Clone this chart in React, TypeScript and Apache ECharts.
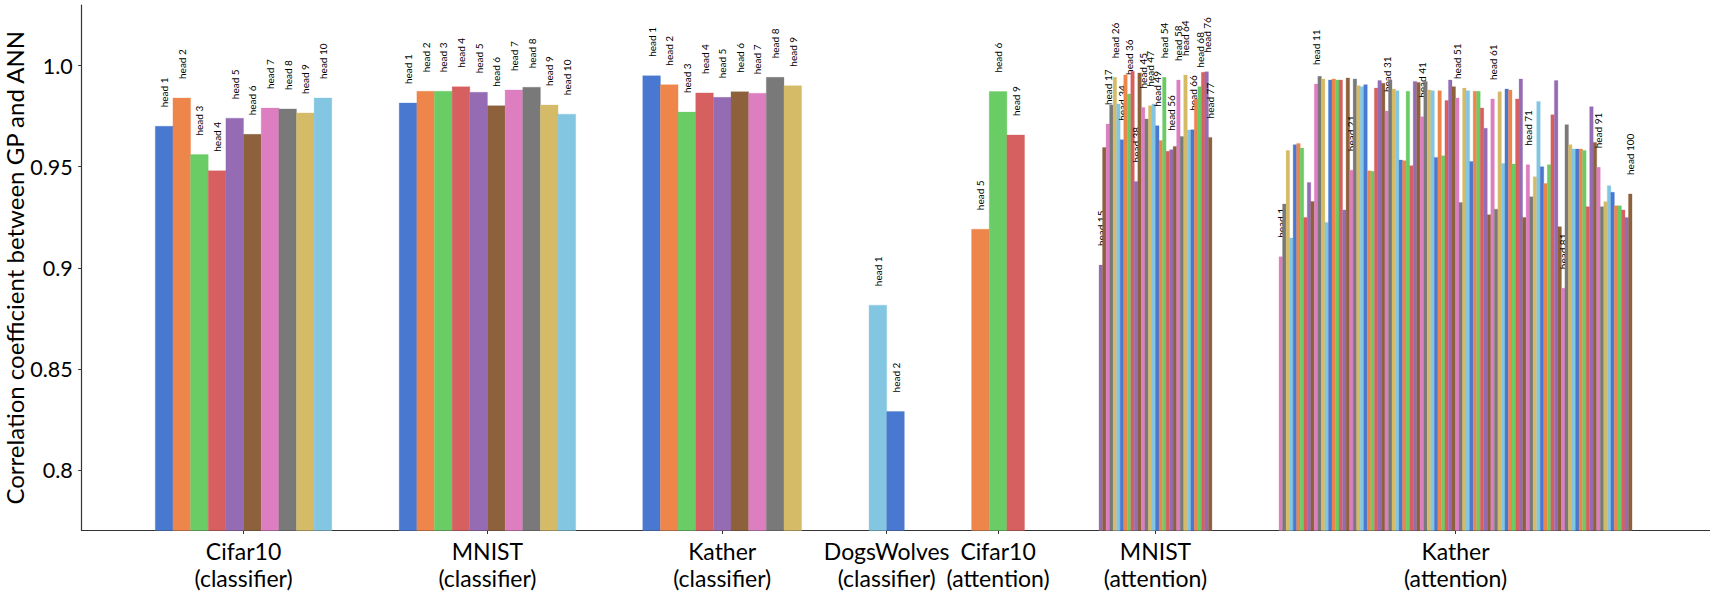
import React, { useEffect, useRef } from "react";
import * as echarts from "echarts";

// seaborn "muted" palette, cycled continuously over all bars
const palette = ["#4878d0", "#ee854a", "#6acc64", "#d65f5f", "#956cb4", "#8c613c", "#dc7ec0", "#797979", "#d5bb67", "#82c6e2"];

const groupLabels = [
  "Cifar10\n(classifier)",
  "MNIST\n(classifier)",
  "Kather\n(classifier)",
  "DogsWolves\n(classifier)",
  "Cifar10\n(attention)",
  "MNIST\n(attention)",
  "Kather\n(attention)",
];
// group centre positions on the x axis (unit = one classifier bar width)
const groupCenters = [9.17, 22.99, 36.29, 45.61, 51.92, 60.84, 77.84];
const groupBarWidths = [1, 1, 1, 1, 1, 0.2, 0.2];
const X_MAX = 92.23;

const Y_MIN = 0.77;
const Y_MAX = 1.03;
const yTicks = [0.8, 0.85, 0.9, 0.95, 1.0];

const cifarClassifier = [0.970, 0.984, 0.956, 0.948, 0.974, 0.966, 0.979, 0.9786, 0.9766, 0.984];
const cifarClassifierHeads = [1, 2, 3, 4, 5, 6, 7, 8, 9, 10];

const mnistClassifier = [0.9815, 0.9873, 0.9873, 0.9896, 0.9868, 0.9802, 0.9879, 0.9893, 0.9805, 0.976];
const mnistClassifierHeads = [1, 2, 3, 4, 5, 6, 7, 8, 9, 10];

const katherClassifier = [0.995, 0.9906, 0.977, 0.9865, 0.9843, 0.9871, 0.9863, 0.9942, 0.9901];
const katherClassifierHeads = [1, 2, 3, 4, 5, 6, 7, 8, 9];

const dogsClassifier = [0.8815, 0.8289];
const dogsClassifierHeads = [1, 2];

const cifarAttention = [0.9191, 0.9872, 0.9657];
const cifarAttentionHeads = [5, 6, 9];

const mnistAttention = [
  0.9013, 0.9595, 0.9711, 0.9805, 0.9942, 0.981, 0.9633, 0.9954, 0.986, 0.9972,
  0.9427, 0.9964, 0.9793, 0.9736, 0.9802, 0.981, 0.9703, 0.9629, 0.9942, 0.9576,
  0.9584, 0.96, 0.9929, 0.965, 0.9954, 0.9681, 0.9683, 0.9835, 0.9896, 0.9967,
  0.997, 0.9645,
];
// labelled heads (null = bar drawn without a label)
const mnistAttentionHeads = [
  15, null, 17, null, 26, null, 34, null, 36, null,
  38, null, 45, null, 47, null, 49, null, 54, null,
  56, null, 58, null, 64, null, 66, null, 68, null,
  76, 77,
];

const katherAttention = [
  0.9054, 0.9315, 0.958, 0.9147, 0.9609, 0.9615, 0.9592, 0.9249, 0.9422, 0.9328,
  0.9909, 0.9947, 0.9934, 0.9224, 0.9929, 0.9934, 0.9929, 0.9929, 0.9286, 0.9939,
  0.9483, 0.9934, 0.9901, 0.9896, 0.9906, 0.948, 0.9477, 0.9889, 0.9926, 0.9913,
  0.9775, 0.9929, 0.9884, 0.9876, 0.9533, 0.953, 0.9873, 0.9505, 0.9922, 0.9917,
  0.9747, 0.9922, 0.9879, 0.9876, 0.9546, 0.9876, 0.9554, 0.9827, 0.9929, 0.9896,
  0.984, 0.9323, 0.9889, 0.9876, 0.9526, 0.9873, 0.9873, 0.979, 0.969, 0.9262,
  0.9835, 0.929, 0.9871, 0.9516, 0.9884, 0.9879, 0.9513, 0.9835, 0.9934, 0.9249,
  0.951, 0.9351, 0.945, 0.9823, 0.95, 0.9417, 0.951, 0.9757, 0.9926, 0.9203,
  0.8899, 0.9708, 0.9609, 0.9587, 0.9587, 0.9587, 0.958, 0.9302, 0.9797, 0.962,
  0.9497, 0.9302, 0.9327, 0.9406, 0.9373, 0.9307, 0.9307, 0.9286, 0.9249, 0.9365,
];
const katherAttentionHeads = katherAttention.map((_, i) => (i % 10 === 0 || i === katherAttention.length - 1 ? i + 1 : null));

const groupValues = [cifarClassifier, mnistClassifier, katherClassifier, dogsClassifier, cifarAttention, mnistAttention, katherAttention];
const groupHeads = [cifarClassifierHeads, mnistClassifierHeads, katherClassifierHeads, dogsClassifierHeads, cifarAttentionHeads, mnistAttentionHeads, katherAttentionHeads];

const FONT = "Lato";
const LABEL_GAP = 19;

type Bar = { x0: number; x1: number; v: number; color: string; label: string };

function buildBars(): Bar[] {
  const bars: Bar[] = [];
  let colorIdx = 0;
  groupValues.forEach((vals, gi) => {
    const w = groupBarWidths[gi];
    const start = groupCenters[gi] - (vals.length * w) / 2;
    vals.forEach((v, i) => {
      const h = groupHeads[gi][i];
      bars.push({
        x0: start + i * w,
        x1: start + (i + 1) * w,
        v,
        color: palette[colorIdx % palette.length],
        label: h != null ? `head ${h}` : "",
      });
      colorIdx++;
    });
  });
  return bars;
}

export default function App() {
  const ref = useRef<HTMLDivElement>(null);
  useEffect(() => {
    if (!ref.current) return;
    const chart = echarts.init(ref.current, undefined, { renderer: "svg" });
    const bars = buildBars();
    const option: any = {
      animation: false,
      backgroundColor: "#ffffff",
      grid: { left: 81.7, right: 0.5, top: 5, bottom: 61.5, containLabel: false, outerBoundsMode: "none" },
      xAxis: {
        type: "value",
        min: 0,
        max: X_MAX,
        splitLine: { show: false },
        axisLine: { show: true, onZero: false, lineStyle: { color: "#333", width: 1.2 } },
        axisTick: { show: true, customValues: groupCenters, length: 3.5, lineStyle: { color: "#333", width: 1 } },
        axisLabel: {
          customValues: groupCenters,
          formatter: (v: number) => {
            const i = groupCenters.findIndex((c) => Math.abs(c - v) < 1e-6);
            return i >= 0 ? groupLabels[i] : "";
          },
          margin: 7,
          fontSize: 23,
          lineHeight: 27,
          color: "#000",
          fontFamily: FONT,
        },
      },
      yAxis: {
        type: "value",
        min: Y_MIN,
        max: Y_MAX,
        name: "Correlation coefficient between GP and ANN",
        nameLocation: "middle",
        nameRotate: 90,
        nameGap: 55,
        nameMoveOverlap: false,
        nameTextStyle: { fontSize: 24, fontFamily: FONT, color: "#000" },
        splitLine: { show: false },
        axisLine: { show: true, onZero: false, lineStyle: { color: "#333", width: 1.2 } },
        axisTick: { show: true, customValues: yTicks, length: 3.5, lineStyle: { color: "#333", width: 1 } },
        axisLabel: {
          customValues: yTicks,
          formatter: (v: number) => v.toFixed(2).replace(/0$/, ""),
          margin: 9,
          fontSize: 21.5,
          color: "#000",
          fontFamily: FONT,
        },
      },
      series: [
        {
          type: "custom",
          clip: false,
          encode: { x: [0, 1], y: 2 },
          data: bars.map((b) => [b.x0, b.x1, b.v]),
          renderItem: (params: any, api: any) => {
            const b = bars[params.dataIndex];
            const tl = api.coord([api.value(0), api.value(2)]);
            const br = api.coord([api.value(1), Y_MIN]);
            const children: any[] = [
              {
                type: "rect",
                shape: { x: tl[0], y: tl[1], width: br[0] - tl[0], height: br[1] - tl[1] },
                style: { fill: b.color, stroke: b.color, lineWidth: 0.3 },
              },
            ];
            if (b.label) {
              children.push({
                type: "text",
                x: (tl[0] + br[0]) / 2,
                y: tl[1] - LABEL_GAP,
                rotation: Math.PI / 2,
                style: {
                  text: b.label,
                  fill: "#000",
                  fontSize: 10,
                  fontFamily: FONT,
                  align: "left",
                  verticalAlign: "middle",
                },
              });
            }
            return { type: "group", children };
          },
        },
      ],
    };
    chart.setOption(option);
    return () => chart.dispose();
  }, []);
  return (
    <div
      ref={ref}
      style={{ position: "absolute", left: 0, top: 0, width: 1710, height: 592, background: "#fff" }}
    />
  );
}
